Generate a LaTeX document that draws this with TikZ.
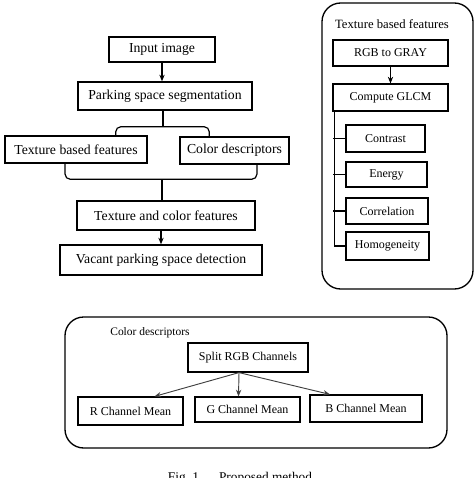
\documentclass[tikz,border=0pt]{standalone}
\usepackage{fontspec}
\setmainfont{Liberation Serif}
\usetikzlibrary{calc,arrows.meta}
\def\bigtxt{\fontsize{10.3}{12}\selectfont}
\def\smalltxt{\fontsize{9}{11}\selectfont}

\begin{document}
\begin{tikzpicture}[x=0.75pt, y=-0.75pt,
		sz/.style 2 args={minimum width=#1*0.75pt, minimum height=#2*0.75pt},
		box/.style={draw, line width=1pt, inner sep=0pt, font=\bigtxt},
		sbox/.style={draw, line width=0.9pt, inner sep=0pt, font=\smalltxt},
		panel/.style={draw, line width=1pt, rounded corners=14pt, inner sep=0pt},
		link/.style={line width=0.9pt},
		arr/.style={line width=0.9pt, -{Stealth[length=5pt, width=4pt]}},
		thin arr/.style={line width=0.7pt, black!75, -{Stealth[length=5pt, width=4pt]}}]
		\useasboundingbox (0,0) rectangle (474,478);
		%%%%% START %%%%%
		% main flow
		\node[box, sz={106}{25}] (inimg) at (162, 49.5) {Input image};
		\node[box, sz={174}{28}] (seg) at (165, 96) {Parking space segmentation};
		\node[box, sz={142}{27}] (texf) at (76, 149.5) {Texture based features};
		\node[box, sz={109}{27}] (cold) at (234.5, 150.5) {Color descriptors};
		\node[box, sz={178}{29}] (tcf) at (166, 215.5) {Texture and color features};
		\node[box, sz={202}{30}] (vac) at (161, 260) {Vacant parking space detection};
		
		\draw[arr] (inimg.south) -- (inimg.south |- seg.north);
		
		\draw[link] ($(seg.south)+(-2,0)$) -- ++(0,16);
		\draw[link, rounded corners=4] ($(texf.north east)+(-32,0)$) |- ($(seg.south)+(0,16)$) -| ($(cold.north west)+(30,0)$);
		
		\draw[link, rounded corners=4] ($(texf.south)+(-11,0)$) |- ($(tcf.north)+(-4,-21)$) -| ($(cold.south)+(22.5,0)$);
		\draw[link] ($(tcf.north)+(-4,0)$) -- ++(0,-21);
		
		\draw[arr] (tcf.south -| vac.north) -- (vac.north);
		
		% texture panel
		\node[panel, sz={151}{286}] (texpanel) at (397.5, 146) {};
		\node[font=\fontsize{9.5}{11}\selectfont] (textitle) at (392, 24) {Texture based features};
		\node[sbox, sz={115}{26}] (rgb) at (390.5, 53) {RGB to GRAY};
		\node[sbox, sz={115}{27}] (glcm) at (390.5, 97.5) {Compute GLCM};
		\node[sbox, sz={79}{27}] (contrast) at (385.5, 138.5) {Contrast};
		\node[sbox, sz={81}{25}] (energy) at (386.5, 174.5) {Energy};
		\node[sbox, sz={82}{26}] (corr) at (387, 211) {Correlation};
		\node[sbox, sz={83}{28}] (homog) at (387.5, 246) {Homogeneity};
		
		\draw[arr] (rgb) -- (glcm);
		\coordinate (trunk) at ($(glcm.south west)+(2,0)$);
		\draw[link] (trunk) |- (homog.west);
		\foreach \n in {contrast,energy,corr}
			\draw[link] ($(trunk |- \n.west)+(-1,0)$) -- (\n.west);
		
		% color panel
		\node[panel, sz={382}{131}] (colpanel) at (256, 382.5) {};
		\node[font=\fontsize{8.6}{10}\selectfont] (coltitle) at (150, 333) {Color descriptors};
		\node[sbox, sz={120}{29}] (split) at (248, 357.5) {Split RGB Channels};
		\node[sbox, sz={105}{28}] (rch) at (130.5, 411) {R Channel Mean};
		\node[sbox, sz={105}{25}] (gch) at (247.5, 409.5) {G Channel Mean};
		\node[sbox, sz={112}{27}] (bch) at (366, 408.5) {B Channel Mean};
		
		\coordinate (fork) at ($(split.south)+(-9,0)$);
		\draw[thin arr] (fork) -- ($(rch.north)+(24,0)$);
		\draw[thin arr] (fork) -- ($(gch.north)+(-9,0)$);
		\draw[thin arr] (fork) -- ($(bch.north)+(-36,0)$);
		
		\node[font=\fontsize{10}{12}\selectfont] (caption) at (240, 478) {Fig.~1.\quad\ Proposed method};
		%%%%% END %%%%%
\end{tikzpicture}
\end{document}
